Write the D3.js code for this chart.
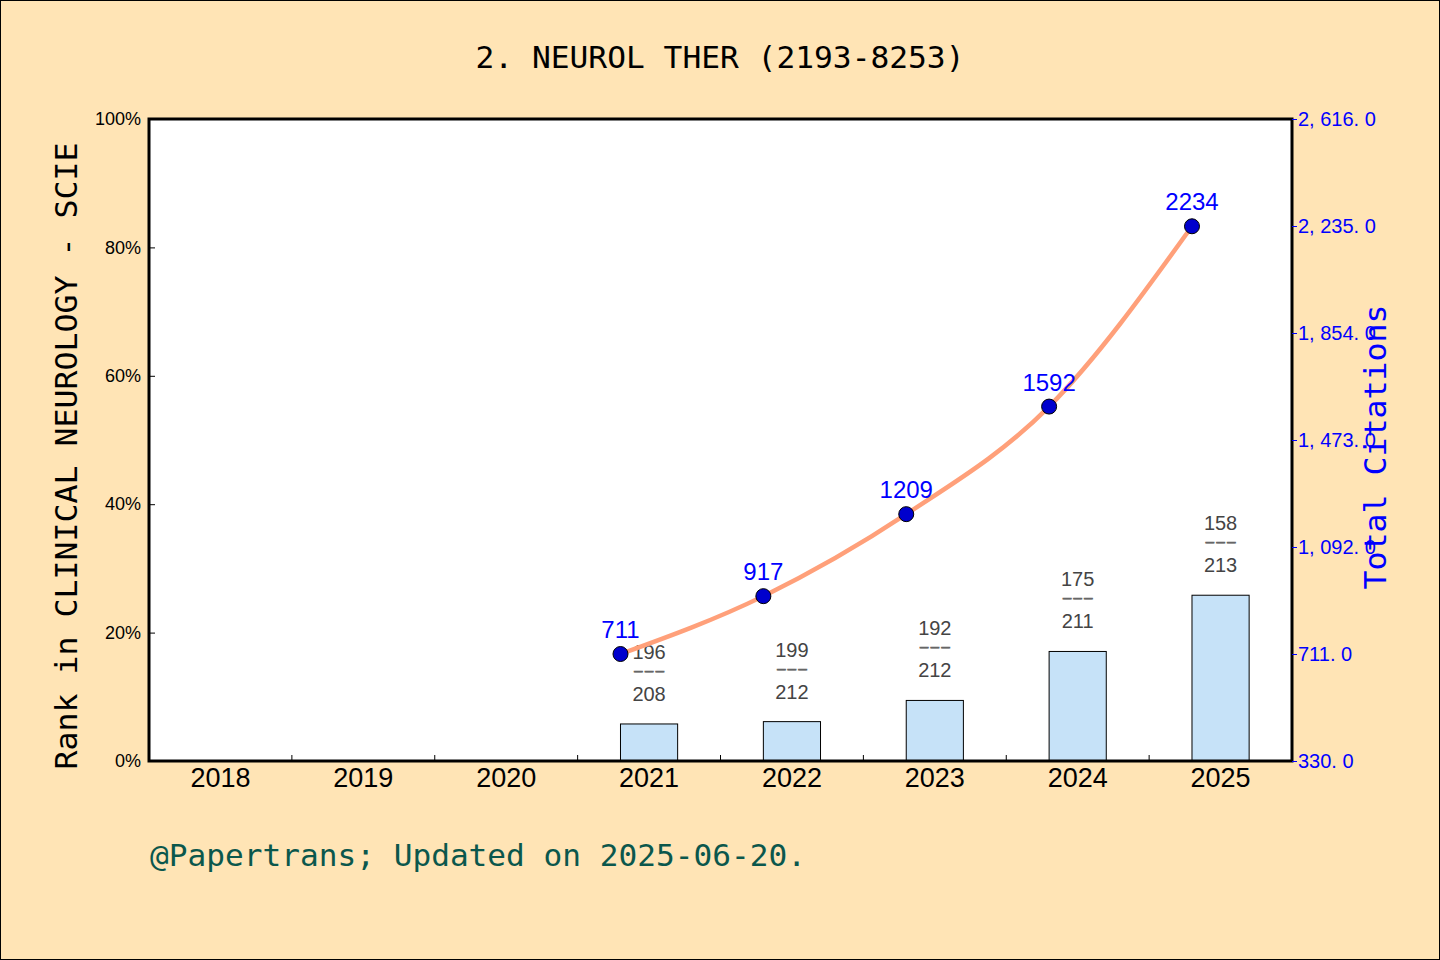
<!DOCTYPE html>
<html>
<head>
<meta charset="utf-8">
<script src="https://cdn.jsdelivr.net/npm/d3@7"></script>
<style>
  html, body { margin: 0; padding: 0; background: #FFE4B5; }
  svg { display: block; }
</style>
</head>
<body>
<svg id="chart" width="1440" height="960"></svg>
<script>
// ---- data ----
const years = ["2018", "2019", "2020", "2021", "2022", "2023", "2024", "2025"];
const rankYears = ["2021", "2022", "2023", "2024", "2025"];
const ranks = [196, 199, 192, 175, 158];
const totals = [208, 212, 212, 211, 213];
const citations = [711, 917, 1209, 1592, 2234];
const leftTicks = [0, 20, 40, 60, 80, 100];
const rightTicks = [330, 711, 1092, 1473, 1854, 2235, 2616];
const rightTickLabels = ["330. 0", "711. 0", "1, 092. 0", "1, 473. 0", "1, 854. 0", "2, 235. 0", "2, 616. 0"];
const titleText = "2. NEUROL THER (2193-8253)";
const leftLabel = "Rank in CLINICAL NEUROLOGY - SCIE";
const rightLabel = "Total Citations";
const footerText = "@Papertrans; Updated on 2025-06-20.";

const W = 1440, H = 960;
const L = 149, R = 1292, T = 119, B = 761;
const mono = "'DejaVu Sans Mono', 'Liberation Mono', monospace";
const sans = "'Liberation Sans', Arial, sans-serif";

const svg = d3.select("#chart");
svg.append("rect").attr("x", 0).attr("y", 0).attr("width", W).attr("height", H).attr("fill", "#FFE4B5");
svg.append("rect").attr("x", 0.5).attr("y", 0.5).attr("width", W - 1).attr("height", H - 1)
  .attr("fill", "none").attr("stroke", "#000").attr("stroke-width", 1);

const x = d3.scaleBand().domain(years).range([L, R]).padding(0);
const yL = d3.scaleLinear().domain([0, 100]).range([B, T]);
const yR = d3.scaleLinear().domain([330, 2616]).range([B, T]);
const bw = x.bandwidth();

// plot background
svg.append("rect").attr("x", L).attr("y", T).attr("width", R - L).attr("height", B - T).attr("fill", "#fff");

// title
svg.append("text").attr("x", 720).attr("y", 68).attr("text-anchor", "middle")
  .attr("font-family", mono).attr("font-size", 31).attr("fill", "#000")
  .attr("textLength", 489).attr("lengthAdjust", "spacingAndGlyphs")
  .text(titleText);

// bars
const pct = ranks.map((r, i) => (1 - r / totals[i]) * 100);
const barW = bw * 0.4;
svg.append("g").selectAll("rect").data(rankYears).join("rect")
  .attr("x", d => x(d) + bw / 2 - barW / 2)
  .attr("y", (d, i) => yL(pct[i]))
  .attr("width", barW)
  .attr("height", (d, i) => B - yL(pct[i]))
  .attr("fill", "#C6E2F8").attr("stroke", "#000").attr("stroke-width", 1);

// rank labels
const lab = svg.append("g").attr("font-family", sans).attr("font-size", 20).attr("fill", "#444").attr("text-anchor", "middle");
rankYears.forEach((yr, i) => {
  const cx = x(yr) + bw / 2;
  const top = yL(pct[i]);
  lab.append("text").attr("x", cx).attr("y", top - 65).text(ranks[i]);
  lab.append("text").attr("x", cx).attr("y", top - 48).attr("font-size", 14)
    .attr("textLength", 32).attr("lengthAdjust", "spacingAndGlyphs")
    .attr("fill", "#666").attr("stroke", "#666").attr("stroke-width", 0.6).text("---");
  lab.append("text").attr("x", cx).attr("y", top - 23).text(totals[i]);
});

// line
const px = d => x(d) + bw * 0.3;
const line = d3.line().x(d => px(d.year)).y(d => yR(d.v)).curve(d3.curveMonotoneX);
const pts = rankYears.map((y, i) => ({ year: y, v: citations[i] }));
svg.append("path").datum(pts).attr("d", line).attr("fill", "none")
  .attr("stroke", "#FFA07A").attr("stroke-width", 4.5);
svg.append("g").selectAll("circle").data(pts).join("circle")
  .attr("cx", d => px(d.year)).attr("cy", d => yR(d.v)).attr("r", 7.5)
  .attr("fill", "#0000CD").attr("stroke", "#000").attr("stroke-width", 1);
svg.append("g").selectAll("text").data(pts).join("text")
  .attr("x", d => px(d.year)).attr("y", d => yR(d.v) - 16)
  .attr("text-anchor", "middle").attr("font-family", sans).attr("font-size", 24)
  .attr("fill", "#0000FF").text(d => d.v);

// plot border
svg.append("rect").attr("x", L).attr("y", T).attr("width", R - L).attr("height", B - T)
  .attr("fill", "none").attr("stroke", "#000").attr("stroke-width", 3);

// left axis
const gL = svg.append("g").attr("transform", `translate(${L},0)`)
  .call(d3.axisLeft(yL).tickValues(leftTicks).tickSizeInner(-6).tickSizeOuter(0).tickPadding(8).tickFormat(d => d + "%"));
gL.select(".domain").remove();
gL.selectAll("text").attr("font-family", sans).attr("font-size", 18).attr("fill", "#000");
gL.selectAll("line").attr("stroke", "#000");

// right axis
const gR = svg.append("g").attr("transform", `translate(${R},0)`)
  .call(d3.axisRight(yR).tickValues(rightTicks).tickSizeInner(5).tickSizeOuter(0).tickPadding(1)
    .tickFormat((d, i) => rightTickLabels[i]));
gR.select(".domain").remove();
gR.selectAll("text").attr("font-family", sans).attr("font-size", 20).attr("fill", "#0000FF");
gR.selectAll("line").attr("stroke", "#0000FF");

// bottom axis labels
const gB = svg.append("g").attr("transform", `translate(0,${B})`)
  .call(d3.axisBottom(x).tickSize(0).tickPadding(7));
gB.select(".domain").remove();
gB.selectAll("text").attr("font-family", sans).attr("font-size", 27).attr("fill", "#000");
// boundary ticks (inward)
svg.append("g").selectAll("line").data(years.slice(1)).join("line")
  .attr("x1", d => x(d)).attr("x2", d => x(d)).attr("y1", B).attr("y2", B - 6)
  .attr("stroke", "#000").attr("stroke-width", 1);

// axis titles
svg.append("text").attr("transform", "translate(77,456) rotate(-90)").attr("text-anchor", "middle")
  .attr("font-family", mono).attr("font-size", 31).attr("fill", "#000")
  .attr("textLength", 627).attr("lengthAdjust", "spacingAndGlyphs").text(leftLabel);
svg.append("text").attr("transform", "translate(1386,447) rotate(-90)").attr("text-anchor", "middle")
  .attr("font-family", mono).attr("font-size", 31).attr("fill", "#0000FF")
  .attr("textLength", 285).attr("lengthAdjust", "spacingAndGlyphs").text(rightLabel);

// footer
svg.append("text").attr("x", 150).attr("y", 866)
  .attr("font-family", mono).attr("font-size", 31).attr("fill", "#0b574c")
  .attr("textLength", 656).attr("lengthAdjust", "spacingAndGlyphs").text(footerText);
</script>
</body>
</html>
